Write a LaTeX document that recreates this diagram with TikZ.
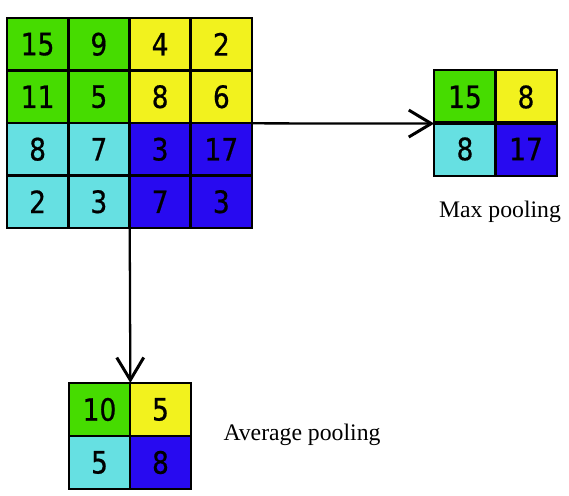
\documentclass[tikz,border=0pt]{standalone}
\usepackage{fontspec}
\setmainfont{Liberation Serif}
\newfontfamily\numfont[FakeStretch=0.86,FakeBold=0.6]{DejaVu Sans}
\usepackage{tikz}
\usetikzlibrary{arrows.meta}
\definecolor{pgreen}{RGB}{70,220,0}
\definecolor{pyellow}{RGB}{242,242,30}
\definecolor{pcyan}{RGB}{102,224,226}
\definecolor{pblue}{RGB}{40,10,240}
\tikzset{
  cell/.style={minimum width=1.22cm, minimum height=1.05cm,
    inner sep=0pt, font=\numfont\fontsize{17.5}{20}\selectfont},
  border/.style={draw=black, line width=1.2pt},
  flow/.style={line width=1.3pt, -{Straight Barb[length=0.45cm, width=0.54cm, line width=1.7pt]}},
  caption/.style={font=\fontsize{13.5}{16}\selectfont}
}

\begin{document}
\begin{tikzpicture}[x=0.02cm, y=-0.02cm]
        \useasboundingbox (0,0) rectangle (569,496);

        % input grid
        \foreach \v/\cc [count=\k from 0] in {15/pgreen,9/pgreen,4/pyellow,2/pyellow,
            11/pgreen,5/pgreen,8/pyellow,6/pyellow,8/pcyan,7/pcyan,3/pblue,17/pblue,
            2/pcyan,3/pcyan,7/pblue,3/pblue}{
          \pgfmathtruncatemacro{\rw}{div(\k,4)+1}
          \pgfmathtruncatemacro{\cl}{mod(\k,4)+1}
          \node[cell, fill=\cc] (in\rw\cl) at ({7+61.25*(\cl-0.5)}, {18+52.5*(\rw-0.5)}) {\v};
        }

        % max pooling grid
        \node[cell, fill=pgreen] (mx11) at (465,97) {15};
        \node[cell, fill=pyellow] (mx12) at (526,97) {8};
        \node[cell, fill=pcyan] (mx21) at (465,149) {8};
        \node[cell, fill=pblue] (mx22) at (526,149) {17};

        % average pooling grid
        \node[cell, fill=pgreen] (av11) at (99.5,409.5) {10};
        \node[cell, fill=pyellow] (av12) at (160.5,409.5) {5};
        \node[cell, fill=pcyan] (av21) at (99.5,462.5) {5};
        \node[cell, fill=pblue] (av22) at (160.5,462.5) {8};

        % borders
        \foreach \n in {in11,in12,in13,in14,in21,in22,in23,in24,in31,in32,in33,in34,
            in41,in42,in43,in44,mx11,mx12,mx21,mx22,av11,av12,av21,av22}
          \draw[border] (\n.south west) rectangle (\n.north east);

        % arrows
        \draw[flow] (in24.south east) -- (mx11.south west);
        \draw[flow] (in42.south east) -- (av11.north east);

        % Text
        \node[caption] (maxlabel) at (500,212) {Max pooling};
        \node[caption] (avglabel) at (302,435) {Average pooling};
\end{tikzpicture}
\end{document}
